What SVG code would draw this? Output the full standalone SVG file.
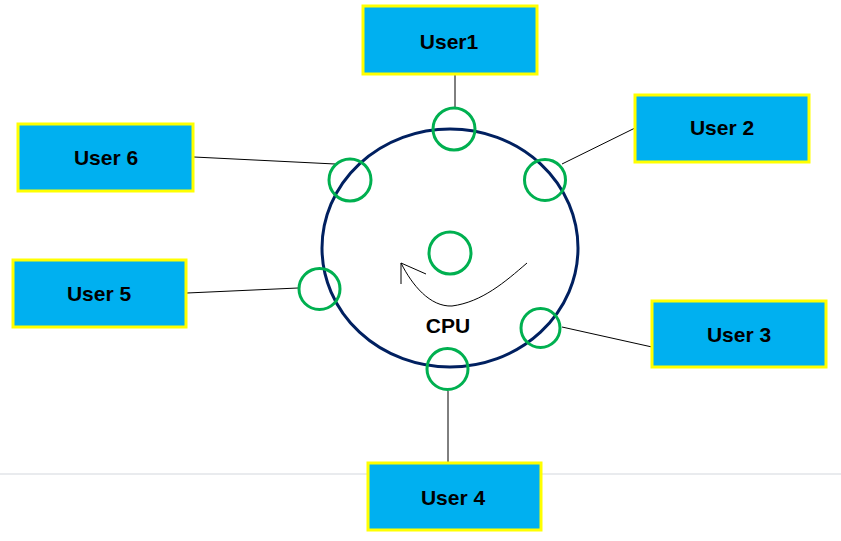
<svg xmlns="http://www.w3.org/2000/svg" width="841" height="541" viewBox="0 0 841 541">
<style>
.box{fill:#00b0f0;stroke:#ffff00;stroke-width:3}
.lbl{font-family:"Liberation Sans",Arial,sans-serif;font-weight:bold;font-size:21px;fill:#000;text-anchor:middle}
.port{fill:none;stroke:#00b050;stroke-width:3}
.conn{stroke:#000;stroke-width:1;fill:none}
</style>
<rect width="841" height="541" fill="#fff"/>
<line x1="0" y1="474" x2="841" y2="474" stroke="#e2e4e8" stroke-width="1.5"/>
<g id="connectors">
<line class="conn" x1="455" y1="75" x2="455" y2="108"/>
<line class="conn" x1="635" y1="128" x2="562" y2="164"/>
<line class="conn" x1="562" y1="327" x2="652" y2="347"/>
<line class="conn" x1="194" y1="157" x2="335" y2="164"/>
<line class="conn" x1="187" y1="293" x2="298" y2="288"/>
<line class="conn" x1="448" y1="391" x2="448" y2="463"/>
</g>
<g id="cpu">
<ellipse cx="450" cy="248" rx="128" ry="119" fill="none" stroke="#002060" stroke-width="3"/>
<circle class="port" cx="450" cy="253" r="21"/>
<path class="conn" d="M527,263 C505,282 482,302 452,306 C430,307 412,285 401,263"/>
<path class="conn" d="M426,274 L401,263 L401,284"/>
<text class="lbl" x="448" y="333" font-size="20">CPU</text>
</g>
<g id="ports">
<circle class="port" cx="454" cy="129" r="21"/>
<circle class="port" cx="545" cy="180" r="20.5"/>
<circle class="port" cx="540.5" cy="328" r="19.5"/>
<circle class="port" cx="447.5" cy="369" r="20.5"/>
<circle class="port" cx="319.5" cy="289" r="20.5"/>
<circle class="port" cx="350" cy="180" r="21"/>
</g>
<g id="user1"><rect class="box" x="363" y="6" width="174" height="68"/><text class="lbl" x="449" y="49">User1</text></g>
<g id="user2"><rect class="box" x="635" y="95" width="174" height="67"/><text class="lbl" x="722" y="135">User 2</text></g>
<g id="user3"><rect class="box" x="652" y="301" width="174" height="66"/><text class="lbl" x="739" y="342">User 3</text></g>
<g id="user4"><rect class="box" x="368" y="463" width="173" height="67"/><text class="lbl" x="453" y="505">User 4</text></g>
<g id="user5"><rect class="box" x="13" y="260" width="173" height="67"/><text class="lbl" x="99" y="301">User 5</text></g>
<g id="user6"><rect class="box" x="18" y="124" width="175" height="67"/><text class="lbl" x="106" y="165">User 6</text></g>
</svg>
